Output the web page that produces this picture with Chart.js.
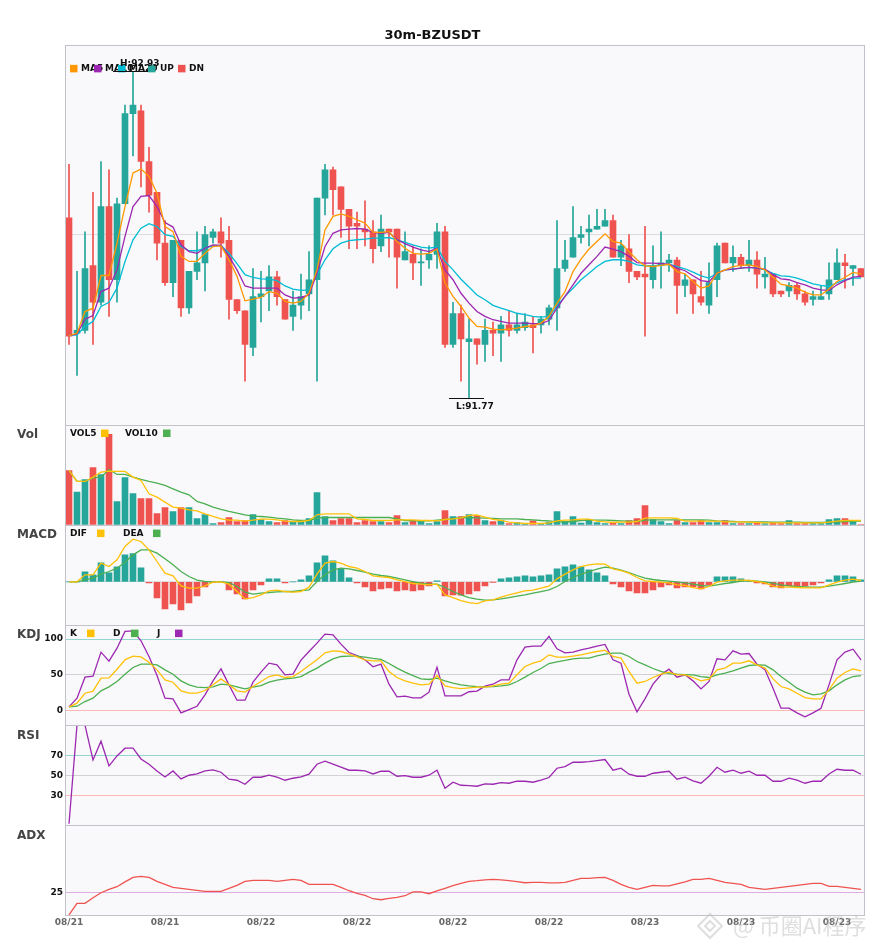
<!DOCTYPE html>
<html>
<head>
<meta charset="utf-8">
<script src="https://cdn.jsdelivr.net/npm/chart.js@4.4.1/dist/chart.umd.min.js"></script>
<style>
  html, body { margin: 0; padding: 0; background: #fff; }
</style>
</head>
<body>
<canvas id="chart" width="885" height="950"></canvas>
<script>
// 30m candles, 100 bars
const open = [92.41, 92.00, 92.01, 92.24, 92.11, 92.45, 92.19, 92.46, 92.78, 92.79,
  92.61, 92.50, 92.32, 92.18, 92.33, 92.09, 92.22, 92.25, 92.34, 92.36,
  92.33, 92.12, 92.08, 91.95, 92.13, 92.15, 92.20, 92.12, 92.06, 92.10,
  92.14, 92.19, 92.48, 92.58, 92.52, 92.44, 92.39, 92.37, 92.36, 92.31,
  92.37, 92.37, 92.26, 92.28, 92.25, 92.26, 92.28, 92.36, 91.96, 92.07,
  91.97, 91.98, 91.96, 92.01, 92.00, 92.03, 92.01, 92.02, 92.03, 92.03,
  92.05, 92.09, 92.23, 92.27, 92.34, 92.36, 92.37, 92.38, 92.40, 92.27,
  92.30, 92.22, 92.21, 92.19, 92.24, 92.25, 92.26, 92.17, 92.19, 92.13,
  92.10, 92.19, 92.32, 92.25, 92.27, 92.24, 92.26, 92.20, 92.21, 92.15,
  92.15, 92.17, 92.14, 92.12, 92.12, 92.14, 92.19, 92.25, 92.23, 92.23];
const high = [92.60, 92.22, 92.36, 92.50, 92.61, 92.58, 92.48, 92.81, 92.93, 92.81,
  92.66, 92.50, 92.40, 92.33, 92.33, 92.22, 92.36, 92.38, 92.37, 92.41,
  92.38, 92.12, 92.08, 92.23, 92.22, 92.24, 92.22, 92.12, 92.15, 92.21,
  92.29, 92.48, 92.60, 92.59, 92.52, 92.44, 92.43, 92.47, 92.40, 92.42,
  92.37, 92.37, 92.36, 92.31, 92.30, 92.31, 92.39, 92.38, 92.11, 92.10,
  92.05, 91.98, 92.05, 92.04, 92.06, 92.08, 92.07, 92.07, 92.06, 92.06,
  92.10, 92.40, 92.33, 92.45, 92.38, 92.42, 92.44, 92.44, 92.42, 92.33,
  92.35, 92.22, 92.38, 92.31, 92.36, 92.28, 92.27, 92.21, 92.19, 92.22,
  92.25, 92.32, 92.32, 92.31, 92.28, 92.33, 92.29, 92.27, 92.21, 92.15,
  92.18, 92.18, 92.15, 92.15, 92.17, 92.25, 92.30, 92.28, 92.24, 92.23];
const low = [91.96, 91.85, 92.00, 91.96, 92.10, 92.06, 92.11, 92.46, 92.63, 92.52,
  92.43, 92.26, 92.17, 92.13, 92.06, 92.07, 92.19, 92.15, 92.32, 92.27,
  92.05, 92.07, 91.83, 91.92, 92.04, 92.08, 92.10, 92.05, 92.01, 92.05,
  92.08, 91.83, 92.42, 92.42, 92.34, 92.30, 92.30, 92.31, 92.25, 92.29,
  92.27, 92.16, 92.26, 92.19, 92.17, 92.23, 92.23, 91.95, 91.95, 91.83,
  91.77, 91.89, 91.90, 91.92, 91.90, 91.99, 92.00, 92.01, 91.93, 92.00,
  92.03, 92.01, 92.22, 92.27, 92.32, 92.31, 92.37, 92.38, 92.27, 92.24,
  92.18, 92.19, 91.99, 92.16, 92.16, 92.22, 92.07, 92.13, 92.07, 92.10,
  92.07, 92.13, 92.25, 92.22, 92.23, 92.22, 92.16, 92.16, 92.13, 92.13,
  92.13, 92.12, 92.10, 92.10, 92.12, 92.12, 92.19, 92.16, 92.17, 92.20];
const close = [91.99, 92.01, 92.23, 92.11, 92.45, 92.19, 92.46, 92.78, 92.81, 92.61,
  92.49, 92.32, 92.18, 92.33, 92.09, 92.22, 92.25, 92.35, 92.36, 92.32,
  92.12, 92.08, 91.96, 92.13, 92.14, 92.20, 92.13, 92.05, 92.10, 92.13,
  92.19, 92.48, 92.58, 92.51, 92.44, 92.38, 92.38, 92.36, 92.30, 92.37,
  92.36, 92.27, 92.29, 92.25, 92.25, 92.28, 92.36, 91.96, 92.07, 91.98,
  91.98, 91.96, 92.01, 92.00, 92.03, 92.01, 92.03, 92.04, 92.02, 92.05,
  92.09, 92.23, 92.26, 92.34, 92.35, 92.37, 92.38, 92.40, 92.27, 92.31,
  92.22, 92.20, 92.20, 92.24, 92.25, 92.26, 92.17, 92.19, 92.14, 92.11,
  92.18, 92.31, 92.25, 92.27, 92.24, 92.26, 92.21, 92.21, 92.14, 92.14,
  92.17, 92.14, 92.11, 92.13, 92.13, 92.19, 92.25, 92.24, 92.24, 92.20];

const ma5 = [91.992, 92.000, 92.077, 92.089, 92.205, 92.205, 92.320, 92.450, 92.569, 92.583,
  92.557, 92.497, 92.379, 92.361, 92.273, 92.255, 92.255, 92.284, 92.308, 92.310,
  92.261, 92.202, 92.115, 92.121, 92.127, 92.148, 92.142, 92.113, 92.107, 92.113,
  92.142, 92.225, 92.367, 92.415, 92.424, 92.415, 92.403, 92.391, 92.358, 92.358,
  92.361, 92.326, 92.302, 92.284, 92.281, 92.284, 92.299, 92.178, 92.131, 92.095,
  92.054, 92.024, 92.022, 92.015, 92.012, 92.015, 92.018, 92.024, 92.026, 92.036,
  92.060, 92.107, 92.148, 92.219, 92.263, 92.299, 92.326, 92.353, 92.326, 92.320,
  92.290, 92.261, 92.239, 92.237, 92.241, 92.245, 92.219, 92.211, 92.184, 92.160,
  92.168, 92.213, 92.225, 92.237, 92.241, 92.243, 92.237, 92.225, 92.199, 92.174,
  92.168, 92.160, 92.146, 92.136, 92.136, 92.157, 92.184, 92.199, 92.216, 92.211];
const ma10 = [91.992, 91.998, 92.050, 92.063, 92.148, 92.160, 92.225, 92.344, 92.450, 92.486,
  92.489, 92.450, 92.393, 92.377, 92.314, 92.290, 92.284, 92.302, 92.314, 92.312,
  92.273, 92.225, 92.168, 92.160, 92.160, 92.160, 92.160, 92.136, 92.125, 92.127,
  92.136, 92.213, 92.308, 92.355, 92.367, 92.370, 92.372, 92.370, 92.358, 92.355,
  92.358, 92.332, 92.318, 92.306, 92.296, 92.290, 92.302, 92.225, 92.190, 92.142,
  92.107, 92.077, 92.060, 92.048, 92.042, 92.036, 92.036, 92.036, 92.034, 92.034,
  92.045, 92.089, 92.131, 92.172, 92.213, 92.243, 92.273, 92.306, 92.299, 92.290,
  92.273, 92.251, 92.249, 92.249, 92.247, 92.245, 92.231, 92.222, 92.204, 92.187,
  92.183, 92.213, 92.225, 92.228, 92.231, 92.234, 92.231, 92.228, 92.208, 92.193,
  92.190, 92.180, 92.172, 92.160, 92.154, 92.152, 92.172, 92.187, 92.199, 92.202];
const ma20 = [91.992, 91.994, 92.024, 92.042, 92.095, 92.110, 92.160, 92.255, 92.332, 92.373,
  92.389, 92.379, 92.350, 92.344, 92.308, 92.293, 92.293, 92.302, 92.310, 92.312,
  92.284, 92.247, 92.208, 92.198, 92.193, 92.192, 92.187, 92.168, 92.157, 92.152,
  92.154, 92.208, 92.261, 92.300, 92.320, 92.329, 92.332, 92.334, 92.338, 92.338,
  92.340, 92.332, 92.323, 92.314, 92.306, 92.302, 92.306, 92.255, 92.225, 92.192,
  92.164, 92.136, 92.119, 92.099, 92.089, 92.080, 92.071, 92.066, 92.060, 92.057,
  92.060, 92.095, 92.131, 92.160, 92.190, 92.213, 92.237, 92.255, 92.261, 92.261,
  92.255, 92.243, 92.239, 92.239, 92.243, 92.245, 92.237, 92.229, 92.217, 92.204,
  92.196, 92.213, 92.225, 92.228, 92.231, 92.234, 92.231, 92.225, 92.213, 92.204,
  92.202, 92.196, 92.186, 92.175, 92.170, 92.166, 92.180, 92.190, 92.196, 92.196];

const volume = [1630, 980, 1360, 1720, 1510, 2710, 700, 1420, 940, 790,
  790, 340, 520, 400, 520, 520, 190, 310, 40, 70,
  220, 100, 130, 310, 160, 100, 70, 130, 100, 100,
  190, 970, 250, 130, 190, 190, 70, 130, 100, 100,
  70, 280, 70, 130, 130, 40, 100, 430, 250, 250,
  310, 280, 130, 100, 130, 40, 70, 20, 120, 40,
  80, 400, 100, 250, 50, 160, 70, 40, 70, 40,
  130, 190, 580, 160, 100, 40, 130, 70, 70, 130,
  70, 70, 130, 40, 40, 40, 70, 40, 70, 40,
  130, 40, 40, 40, 40, 160, 190, 190, 100, 10];
const vol5 = [1630, 1300, 1300, 1430, 1580, 1610, 1600, 1600, 1430, 1330,
  930, 830, 680, 530, 500, 450, 420, 330, 250, 180,
  140, 140, 110, 140, 170, 170, 150, 110, 100, 100,
  130, 300, 330, 330, 330, 330, 180, 160, 130, 130,
  130, 150, 150, 150, 130, 130, 120, 160, 180, 210,
  280, 300, 230, 160, 130, 80, 60, 40, 40, 40,
  60, 120, 140, 150, 170, 170, 110, 90, 70, 80,
  80, 100, 200, 210, 210, 210, 190, 110, 110, 110,
  110, 110, 90, 90, 90, 80, 70, 60, 60, 60,
  60, 60, 60, 60, 60, 80, 110, 130, 130, 130];
const vol10 = [1630, 1300, 1300, 1410, 1430, 1660, 1510, 1510, 1430, 1360,
  1300, 1250, 1180, 1080, 980, 900, 700, 630, 530, 460,
  400, 350, 300, 260, 250, 230, 200, 180, 150, 130,
  130, 200, 220, 220, 220, 220, 220, 220, 220, 220,
  220, 180, 130, 120, 120, 120, 140, 160, 180, 220,
  220, 210, 200, 190, 180, 180, 180, 160, 150, 130,
  120, 90, 90, 100, 130, 140, 140, 140, 130, 120,
  110, 100, 140, 150, 150, 150, 150, 150, 150, 150,
  140, 120, 110, 100, 90, 90, 90, 90, 80, 80,
  80, 80, 70, 70, 70, 80, 90, 100, 110, 110];

// MACD in units of 0.0001
const macdHist = [0, 0, 30, 21, 57, 27, 45, 81, 85, 42,
  -3, -48, -81, -66, -84, -63, -42, -15, -1, 0,
  -24, -36, -51, -24, -9, 9, 9, -3, 0, 6,
  18, 57, 78, 63, 39, 12, -3, -15, -27, -21,
  -18, -27, -24, -27, -24, -12, 3, -42, -39, -40,
  -36, -27, -12, -1, 9, 12, 15, 18, 15, 18,
  21, 39, 45, 51, 45, 36, 27, 18, -6, -15,
  -27, -33, -33, -24, -15, -9, -18, -15, -15, -21,
  -9, 15, 15, 15, 9, 3, -3, -6, -15, -18,
  -12, -15, -12, -9, -3, 6, 18, 18, 15, 6];
const dif = [0, 0, 21, 21, 56, 46, 66, 106, 128, 121,
  96, 61, 26, 18, -12, -19, -19, -12, -1, 0,
  -7, -29, -51, -47, -39, -27, -25, -29, -31, -29,
  -16, 23, 56, 61, 56, 46, 41, 31, 18, 15,
  13, 6, 1, -5, -7, -9, -7, -39, -47, -56,
  -62, -65, -57, -54, -46, -39, -33, -27, -25, -19,
  -13, 9, 23, 36, 46, 51, 54, 53, 39, 34,
  26, 13, 3, 1, -1, -3, -9, -11, -17, -21,
  -14, -1, 3, 5, 5, 4, 1, -3, -13, -16,
  -16, -17, -18, -18, -18, -9, -1, 5, 8, 4];
const dea = [0, 0, 6, 11, 23, 31, 41, 59, 81, 96,
  96, 86, 69, 51, 31, 16, 5, 1, 0, 0,
  -2, -14, -31, -37, -34, -32, -30, -29, -29, -26,
  -24, 1, 21, 36, 41, 39, 34, 29, 23, 19,
  16, 11, 6, 1, -4, -7, -7, -17, -29, -39,
  -47, -52, -55, -54, -51, -47, -43, -39, -34, -29,
  -24, -14, 1, 13, 23, 31, 38, 44, 41, 35,
  28, 19, 11, 7, 4, 2, 0, -3, -7, -11,
  -13, -9, -5, -2, 2, 4, 2, 0, -4, -9,
  -12, -14, -15, -16, -16, -13, -9, -5, -1, 2];

const kLine = [4.7, 9.9, 23.9, 26.8, 45.1, 45.5, 57.7, 70.9, 76.1, 75.1,
  67.6, 56.8, 42.7, 39.4, 27.2, 23.9, 23.9, 27.7, 35.7, 44.1,
  35.7, 27.2, 25.4, 33.3, 40.4, 47.4, 49.8, 46.0, 47.4, 54.5,
  62.9, 70.9, 80.8, 83.6, 82.6, 78.9, 75.1, 70.9, 69.5, 69.5,
  54.5, 46.0, 41.3, 38.0, 35.7, 36.6, 48.8, 34.3, 31.9, 30.5,
  31.5, 32.4, 32.4, 34.3, 36.6, 38.0, 49.8, 61.5, 66.2, 69.5,
  77.9, 74.6, 74.6, 76.1, 77.9, 80.3, 82.6, 84.5, 75.6, 73.2,
  54.5, 38.0, 40.4, 46.0, 50.7, 53.5, 49.8, 49.8, 46.0, 41.3,
  43.7, 56.8, 59.2, 66.2, 66.2, 69.5, 63.8, 59.2, 44.1, 33.3,
  30.0, 23.9, 17.8, 16.0, 16.0, 28.6, 45.1, 53.1, 58.2, 55.4];
const dLine = [4.7, 5.6, 12.2, 16.9, 27.2, 32.9, 40.4, 50.7, 60.1, 64.8,
  64.8, 63.8, 56.8, 50.7, 41.3, 35.7, 32.4, 31.9, 32.9, 36.6,
  35.7, 32.9, 30.0, 32.4, 34.7, 39.4, 42.3, 44.1, 45.1, 47.4,
  53.5, 59.2, 66.2, 72.3, 75.6, 76.1, 76.1, 74.6, 72.8, 71.4,
  65.7, 59.2, 53.5, 48.8, 44.1, 43.2, 45.1, 41.3, 38.0, 35.7,
  34.3, 33.3, 32.9, 33.3, 34.3, 35.7, 40.4, 46.5, 53.1, 58.7,
  65.7, 68.1, 70.0, 72.3, 73.2, 73.2, 76.5, 78.9, 80.3, 80.3,
  75.6, 68.5, 63.8, 58.7, 54.5, 51.6, 50.7, 50.2, 49.8, 47.4,
  46.0, 49.8, 52.1, 55.4, 59.2, 62.9, 63.8, 63.4, 56.8, 47.4,
  39.4, 31.0, 25.4, 21.6, 23.0, 27.2, 35.7, 42.7, 47.4, 48.8];
const jLine = [4.7, 16.9, 46.5, 47.9, 81.7, 69.0, 87.3, 110.8, 111.7, 97.7,
  75.6, 48.8, 16.9, 16.0, -3.8, 0.9, 5.6, 21.6, 41.3, 58.2,
  35.7, 14.1, 14.1, 39.4, 53.5, 66.2, 63.8, 49.8, 50.7, 70.4,
  82.6, 94.4, 107.0, 106.1, 93.0, 81.2, 77.0, 70.9, 61.0, 64.8,
  36.6, 18.8, 19.7, 17.4, 17.4, 25.4, 60.6, 20.2, 20.2, 20.2,
  26.0, 26.8, 33.8, 36.6, 42.7, 42.7, 70.9, 88.7, 90.1, 90.1,
  103.8, 86.4, 80.8, 81.7, 85.0, 87.3, 90.1, 92.5, 70.9, 66.2,
  22.5, -2.3, 16.0, 36.6, 49.8, 57.7, 46.5, 49.8, 41.3, 30.0,
  40.4, 72.3, 70.9, 83.6, 78.9, 79.8, 64.8, 56.8, 31.0, 2.8,
  2.8, -3.8, -9.4, -3.8, 2.8, 35.7, 70.9, 81.7, 85.9, 70.9];

const rsi = [1.5, 100, 100, 65.3, 84, 59.3, 69.3, 77, 77, 66.3,
  61, 54.3, 48.3, 54.3, 46.3, 50, 51.3, 54.3, 55.3, 53,
  46, 45, 41, 48, 48, 50, 48, 45, 47, 48.3,
  51, 61, 64, 61, 58, 55, 55, 54.3, 51.3, 54,
  54, 49, 49.7, 48, 48, 50, 55, 37, 43, 40,
  39.7, 39, 41.3, 41, 42.7, 42, 44, 44, 43, 45,
  47.7, 57, 58.7, 63, 63, 63.7, 64.7, 65.7, 55, 57,
  51, 49, 49, 52, 53, 54, 46, 48, 44.3, 42,
  49, 58, 53, 55, 52, 54, 50, 50, 44, 44,
  47, 45, 42, 44, 44, 51.3, 56, 55, 55, 51];
const adx = [13.7, 19.5, 19.5, 22.3, 24.8, 26.5, 27.8, 30.2, 32.5, 33,
  32.5, 30.5, 29, 27.5, 27, 26.5, 26, 25.5, 25.5, 25.5,
  27, 28.5, 30.5, 31, 31, 31, 30.5, 31, 31.5, 31,
  29, 29, 29, 29, 27.5, 25.8, 24.5, 23.5, 21.8, 21.3,
  22, 22.5, 23.3, 25.2, 25.2, 24.3, 25.7, 27, 28.3, 29.5,
  30.5, 30.8, 31.2, 31.5, 31.2, 30.8, 30.3, 29.8, 30, 30,
  29.7, 29.7, 30, 31, 32, 32, 32.3, 32.5, 31, 29,
  27.5, 26.5, 27.5, 28.5, 28.2, 28.2, 29.2, 30.2, 31.5, 31.5,
  32, 31, 30, 29.5, 29, 27.5, 27, 26.5, 27, 27.5,
  28, 28.5, 29, 29.5, 29.5, 28, 28, 27.5, 27, 26.5];

// one date label every 12 bars
const tickLabels = ['08/21', '08/21', '08/22', '08/22', '08/22', '08/22', '08/23', '08/23', '08/23'];

const FONT = 'DejaVu Sans';
Chart.defaults.font.family = FONT;

const UP = '#26a69a', DN = '#ef5350';
const C_MA5 = '#ff9800', C_MA10 = '#9c27b0', C_MA20 = '#00bcd4';
const C_YEL = '#ffc107', C_GRN = '#4caf50', C_PUR = '#9c27b0';

const categories = close.map((c, i) => String(i));
const candleColors = close.map((c, i) => c >= open[i] ? UP : DN);
const macdColors = macdHist.map(v => v >= 0 ? UP : DN);

function line(label, data, color, axis) {
  return {
    type: 'line', label: label, data: data, yAxisID: axis,
    borderColor: color, backgroundColor: color, borderWidth: 1.3,
    pointRadius: 0, tension: 0, order: 0
  };
}

function bars(label, data, colors, axis, thickness, extra) {
  return Object.assign({
    type: 'bar', label: label, data: data, yAxisID: axis,
    backgroundColor: colors, borderWidth: 0, barThickness: thickness,
    grouped: false, order: 1
  }, extra || {});
}

const tickFont = {family: FONT, size: 9, weight: 'bold'};

function pane(weight, size, min, max, lines, showLabels) {
  const axis = {
    type: 'linear', position: 'left', stack: 'panes', stackWeight: size, weight: weight,
    min: min, max: max,
    border: {display: false},
    grid: {
      drawTicks: false, lineWidth: 1,
      color: ctx => {
        const l = lines.find(l => l.v === ctx.tick.value);
        return l ? l.c : 'rgba(0,0,0,0)';
      }
    },
    ticks: {display: showLabels, padding: 2, font: tickFont, color: '#111'},
    afterFit: s => { s.width = 65; }
  };
  if (lines.length) {
    axis.afterBuildTicks = s => { s.ticks = lines.map(l => ({value: l.v})); };
  } else {
    axis.grid.display = false;
    axis.ticks.display = false;
  }
  return axis;
}

const L_TEAL = '#92d6cf', L_GRAY = '#d2d2d6', L_PINK = '#ffb8b8', L_PUR = '#dcaee4';

const legends = {
  yMain: [{t: 'MA5', c: C_MA5, sx: 70, tx: 81}, {t: 'MA10', c: C_MA10, sx: 94, tx: 105},
          {t: 'MA20', c: C_MA20, sx: 118, tx: 129}, {t: 'UP', c: UP, sx: 148, tx: 160},
          {t: 'DN', c: DN, sx: 178, tx: 189}],
  yVol: [{t: 'VOL5', c: C_YEL, tx: 70, sx: 101}, {t: 'VOL10', c: C_GRN, tx: 125, sx: 163}],
  yMacd: [{t: 'DIF', c: C_YEL, tx: 70, sx: 97}, {t: 'DEA', c: C_GRN, tx: 123, sx: 153}],
  yKdj: [{t: 'K', c: C_YEL, tx: 70, sx: 87}, {t: 'D', c: C_GRN, tx: 113, sx: 131},
         {t: 'J', c: C_PUR, tx: 157, sx: 175}]
};
const paneNames = {yVol: 'Vol', yMacd: 'MACD', yKdj: 'KDJ', yRsi: 'RSI', yAdx: 'ADX'};
const paneIds = ['yMain', 'yVol', 'yMacd', 'yKdj', 'yRsi', 'yAdx'];

const panesPlugin = {
  id: 'panes',
  beforeDraw(chart) {
    const ctx = chart.ctx, a = chart.chartArea;
    ctx.save();
    ctx.fillStyle = '#ffffff';
    ctx.fillRect(0, 0, chart.width, chart.height);
    ctx.fillStyle = '#f9f9fb';
    paneIds.forEach(id => {
      const s = chart.scales[id];
      ctx.fillRect(a.left, s.top, a.right - a.left, s.bottom - s.top);
    });
    ctx.restore();
  },
  afterDraw(chart) {
    const ctx = chart.ctx, a = chart.chartArea;
    ctx.save();
    // pane frames
    ctx.strokeStyle = '#c2c2ca';
    ctx.lineWidth = 1;
    paneIds.forEach(id => {
      const s = chart.scales[id];
      ctx.strokeRect(Math.round(a.left) + 0.5, Math.round(s.top) + 0.5,
        Math.round(a.right - a.left) - 1, Math.round(s.bottom - s.top));
    });

    // pane names
    ctx.fillStyle = '#444';
    ctx.font = 'bold 12px "' + FONT + '"';
    ctx.textAlign = 'left';
    ctx.textBaseline = 'middle';
    Object.keys(paneNames).forEach(id => {
      ctx.fillText(paneNames[id], 17, chart.scales[id].top + 10.5);
    });

    // legends
    ctx.font = 'bold 9px "' + FONT + '"';
    Object.keys(legends).forEach(id => {
      const y = id === 'yMain' ? chart.scales[id].top + 24 : chart.scales[id].top + 8.5;
      legends[id].forEach(it => {
        if (id === 'yMain') {
          ctx.fillStyle = it.c;
          ctx.fillRect(it.sx, y - 3.75, 7.5, 7.5);
          ctx.fillStyle = '#111';
          ctx.fillText(it.t, it.tx, y + 0.5);
        } else {
          ctx.fillStyle = '#111';
          ctx.fillText(it.t, it.tx, y + 0.5);
          ctx.fillStyle = it.c;
          ctx.fillRect(it.sx, y - 3.75, 7.5, 7.5);
        }
      });
    });

    // high / low marks
    const x = chart.scales.x, y = chart.scales.yMain;
    const hi = Math.max.apply(null, high), lo = Math.min.apply(null, low);
    const hiX = x.getPixelForValue(high.indexOf(hi)), hiY = y.getPixelForValue(hi);
    const loX = x.getPixelForValue(low.indexOf(lo)), loY = y.getPixelForValue(lo);
    ctx.strokeStyle = '#111';
    ctx.beginPath();
    ctx.moveTo(hiX - 20, Math.round(hiY) + 0.5); ctx.lineTo(hiX + 15, Math.round(hiY) + 0.5);
    ctx.moveTo(loX - 20, Math.round(loY) + 0.5); ctx.lineTo(loX + 15, Math.round(loY) + 0.5);
    ctx.stroke();
    ctx.fillStyle = '#111';
    ctx.fillText('H:' + hi.toFixed(2), hiX - 13, hiY - 8);
    ctx.fillText('L:' + lo.toFixed(2), loX - 13, loY + 9);

    // watermark
    ctx.fillStyle = 'rgba(185,185,185,0.45)';
    ctx.font = '22px "Noto Sans CJK SC"';
    ctx.fillText('@ 币圈AI程序', 733, 926);
    ctx.strokeStyle = 'rgba(190,190,190,0.5)';
    ctx.lineWidth = 2;
    ctx.beginPath();
    ctx.moveTo(710, 914); ctx.lineTo(722, 926); ctx.lineTo(710, 938); ctx.lineTo(698, 926); ctx.closePath();
    ctx.moveTo(710, 921); ctx.lineTo(715, 926); ctx.lineTo(710, 931); ctx.lineTo(705, 926); ctx.closePath();
    ctx.stroke();
    ctx.restore();
  }
};

new Chart(document.getElementById('chart'), {
  type: 'bar',
  data: {
    labels: categories,
    datasets: [
      line('MA5', ma5, C_MA5, 'yMain'),
      line('MA10', ma10, C_MA10, 'yMain'),
      line('MA20', ma20, C_MA20, 'yMain'),
      bars('wick', low.map((l, i) => [l, high[i]]), candleColors, 'yMain', 1),
      bars('body', open.map((o, i) => [o, close[i]]), candleColors, 'yMain', 6, {minBarLength: 1}),
      line('VOL5', vol5, C_YEL, 'yVol'),
      line('VOL10', vol10, C_GRN, 'yVol'),
      bars('Vol', volume, candleColors, 'yVol', 6),
      line('DIF', dif, C_YEL, 'yMacd'),
      line('DEA', dea, C_GRN, 'yMacd'),
      bars('MACD', macdHist, macdColors, 'yMacd', 6),
      line('K', kLine, C_YEL, 'yKdj'),
      line('D', dLine, C_GRN, 'yKdj'),
      line('J', jLine, C_PUR, 'yKdj'),
      line('RSI', rsi, C_PUR, 'yRsi'),
      line('ADX', adx, DN, 'yAdx')
    ]
  },
  options: {
    responsive: false,
    animation: false,
    events: [],
    layout: {padding: {left: 0, right: 20, top: 0, bottom: 0}},
    plugins: {
      legend: {display: false},
      tooltip: {enabled: false},
      title: {
        display: true, text: '30m-BZUSDT', color: '#111',
        font: {family: FONT, size: 13, weight: 'bold'},
        padding: {top: 28, bottom: 1}
      }
    },
    scales: {
      x: {
        type: 'category', offset: true,
        grid: {display: false, drawTicks: false},
        border: {display: false},
        ticks: {
          autoSkip: false, maxRotation: 0, minRotation: 0, padding: 2,
          font: tickFont, color: '#666',
          callback: (v, i) => i % 12 === 0 ? tickLabels[i / 12] : null
        },
        afterFit: s => { s.height = 35; }
      },
      yMain: pane(6, 380, 91.675, 93.025, [{v: 92.35, c: '#dcdce0'}], false),
      yVol: pane(5, 100, 0, 3000, [], false),
      yMacd: pane(4, 100, -129, 171, [{v: 0, c: '#dcdce0'}], false),
      yKdj: pane(3, 100, -20.7, 120.1, [{v: 0, c: L_PINK}, {v: 50, c: L_GRAY}, {v: 100, c: L_TEAL}], true),
      yRsi: pane(2, 100, 0.3, 100.3, [{v: 30, c: L_PINK}, {v: 50, c: L_GRAY}, {v: 70, c: L_TEAL}], true),
      yAdx: pane(1, 90, 13.67, 58.67, [{v: 25, c: L_PUR}], true)
    }
  },
  plugins: [panesPlugin]
});
</script>
</body>
</html>
